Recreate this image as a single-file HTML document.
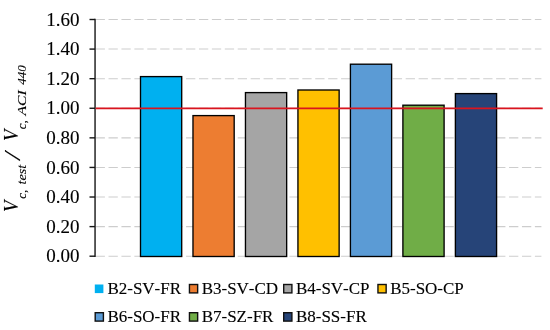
<!DOCTYPE html>
<html><head><meta charset="utf-8"><title>chart</title>
<style>
html,body{margin:0;padding:0;background:#fff;}
body{width:550px;height:330px;overflow:hidden;}
svg{display:block;}
text{font-family:"Liberation Serif","Times New Roman",serif;fill:#000;font-kerning:none;stroke:#000;stroke-width:0.12px;}
.tick{font-size:19px;text-anchor:end;}
.leg{font-size:17px;}
</style></head><body>
<svg width="550" height="330" viewBox="0 0 550 330">
<rect width="550" height="330" fill="#fff"/>
<line x1="95.6" y1="256.20" x2="541.4" y2="256.20" stroke="#CDCDCD" stroke-width="1.05" stroke-dasharray="9.3 3.62"/>
<line x1="95.6" y1="226.61" x2="541.4" y2="226.61" stroke="#CDCDCD" stroke-width="1.05" stroke-dasharray="9.3 3.62"/>
<line x1="95.6" y1="197.02" x2="541.4" y2="197.02" stroke="#CDCDCD" stroke-width="1.05" stroke-dasharray="9.3 3.62"/>
<line x1="95.6" y1="167.44" x2="541.4" y2="167.44" stroke="#CDCDCD" stroke-width="1.05" stroke-dasharray="9.3 3.62"/>
<line x1="95.6" y1="137.85" x2="541.4" y2="137.85" stroke="#CDCDCD" stroke-width="1.05" stroke-dasharray="9.3 3.62"/>
<line x1="95.6" y1="108.26" x2="541.4" y2="108.26" stroke="#CDCDCD" stroke-width="1.05" stroke-dasharray="9.3 3.62"/>
<line x1="95.6" y1="78.67" x2="541.4" y2="78.67" stroke="#CDCDCD" stroke-width="1.05" stroke-dasharray="9.3 3.62"/>
<line x1="95.6" y1="49.09" x2="541.4" y2="49.09" stroke="#CDCDCD" stroke-width="1.05" stroke-dasharray="9.3 3.62"/>
<line x1="95.6" y1="19.50" x2="541.4" y2="19.50" stroke="#CDCDCD" stroke-width="1.05" stroke-dasharray="9.3 3.62"/>
<rect x="140.50" y="76.60" width="41.2" height="179.90" fill="#00B0F0" stroke="#000" stroke-width="1.35"/>
<rect x="192.98" y="115.60" width="41.2" height="140.90" fill="#ED7D31" stroke="#000" stroke-width="1.35"/>
<rect x="245.46" y="92.60" width="41.2" height="163.90" fill="#A5A5A5" stroke="#000" stroke-width="1.35"/>
<rect x="297.94" y="90.00" width="41.2" height="166.50" fill="#FFC000" stroke="#000" stroke-width="1.35"/>
<rect x="350.42" y="64.20" width="41.2" height="192.30" fill="#5B9BD5" stroke="#000" stroke-width="1.35"/>
<rect x="402.90" y="105.20" width="41.2" height="151.30" fill="#70AD47" stroke="#000" stroke-width="1.35"/>
<rect x="455.38" y="93.60" width="41.2" height="162.90" fill="#264478" stroke="#000" stroke-width="1.35"/>
<line x1="95.05" y1="18.8" x2="95.05" y2="256.9" stroke="#161616" stroke-width="1.4"/>
<line x1="89.5" y1="256.20" x2="95" y2="256.20" stroke="#161616" stroke-width="1.4"/>
<text class="tick" x="79.5" y="262.30">0.00</text>
<line x1="89.5" y1="226.61" x2="95" y2="226.61" stroke="#161616" stroke-width="1.4"/>
<text class="tick" x="79.5" y="232.71">0.20</text>
<line x1="89.5" y1="197.02" x2="95" y2="197.02" stroke="#161616" stroke-width="1.4"/>
<text class="tick" x="79.5" y="203.12">0.40</text>
<line x1="89.5" y1="167.44" x2="95" y2="167.44" stroke="#161616" stroke-width="1.4"/>
<text class="tick" x="79.5" y="173.54">0.60</text>
<line x1="89.5" y1="137.85" x2="95" y2="137.85" stroke="#161616" stroke-width="1.4"/>
<text class="tick" x="79.5" y="143.95">0.80</text>
<line x1="89.5" y1="108.26" x2="95" y2="108.26" stroke="#161616" stroke-width="1.4"/>
<text class="tick" x="79.5" y="114.36">1.00</text>
<line x1="89.5" y1="78.67" x2="95" y2="78.67" stroke="#161616" stroke-width="1.4"/>
<text class="tick" x="79.5" y="84.77">1.20</text>
<line x1="89.5" y1="49.09" x2="95" y2="49.09" stroke="#161616" stroke-width="1.4"/>
<text class="tick" x="79.5" y="55.19">1.40</text>
<line x1="89.5" y1="19.50" x2="95" y2="19.50" stroke="#161616" stroke-width="1.4"/>
<text class="tick" x="79.5" y="25.60">1.60</text>
<line x1="95.7" y1="108.4" x2="542.7" y2="108.4" stroke="#DA141E" stroke-width="1.8"/>
<rect x="94.80" y="284.50" width="8.6" height="8.6" fill="#00B0F0"/>
<text class="leg" x="107.40" y="294.1">B2-SV-FR</text>
<rect x="189.45" y="284.50" width="8.2" height="8.4" fill="#ED7D31" stroke="#111" stroke-width="1.4"/>
<text class="leg" x="201.65" y="294.1">B3-SV-CD</text>
<rect x="283.70" y="284.50" width="8.2" height="8.4" fill="#A5A5A5" stroke="#111" stroke-width="1.4"/>
<text class="leg" x="295.90" y="294.1">B4-SV-CP</text>
<rect x="377.95" y="284.50" width="8.2" height="8.4" fill="#FFC000" stroke="#111" stroke-width="1.4"/>
<text class="leg" x="390.15" y="294.1">B5-SO-CP</text>
<rect x="95.20" y="312.70" width="8.2" height="8.4" fill="#5B9BD5" stroke="#111" stroke-width="1.4"/>
<text class="leg" x="107.40" y="322.1">B6-SO-FR</text>
<rect x="189.45" y="312.70" width="8.2" height="8.4" fill="#70AD47" stroke="#111" stroke-width="1.4"/>
<text class="leg" x="201.65" y="322.1">B7-SZ-FR</text>
<rect x="283.70" y="312.70" width="8.2" height="8.4" fill="#264478" stroke="#111" stroke-width="1.4"/>
<text class="leg" x="295.90" y="322.1">B8-SS-FR</text>
<g transform="translate(0,212) rotate(-90)" font-style="italic">
<text transform="translate(0.1,17.6) scale(0.93,1)" x="0" y="0" font-size="20px">V</text>
<text x="13.3" y="26.4" font-size="13px">c,</text>
<text x="27.6" y="26.4" font-size="13px" textLength="19.5" lengthAdjust="spacingAndGlyphs">test</text>
<text transform="translate(52.3,19.6) scale(1.25,1.08)" x="0" y="0" font-size="22px">/</text>
<text transform="translate(71.1,17.6) scale(0.93,1)" x="0" y="0" font-size="20px">V</text>
<text x="82.8" y="26.4" font-size="13px">c,</text>
<text x="96.5" y="26.4" font-size="13px" textLength="25.2" lengthAdjust="spacingAndGlyphs">ACI</text>
<text x="127.3" y="26.4" font-size="13px">440</text>
</g>
</svg>
</body></html>
